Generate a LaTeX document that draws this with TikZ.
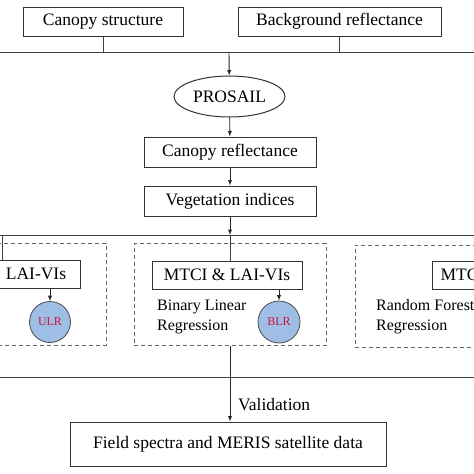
\documentclass[tikz,border=0pt]{standalone}
\usepackage{fontspec}
\setmainfont{Liberation Serif}
\usepackage{tikz}
\usetikzlibrary{shapes,arrows}
\usetikzlibrary{positioning,calc}

\definecolor{methodblue}{RGB}{158,190,230}
\definecolor{methodred}{RGB}{205,20,60}

\tikzset{
  stepbox/.style={draw=black!80, line width=1pt, font=\fontsize{17.5}{20}\selectfont, minimum height=29pt, inner sep=0pt},
  panel/.style={draw=black!60, line width=1pt, dash pattern=on 4pt off 3pt, minimum width=192pt, minimum height=102pt},
  method/.style={circle, draw=black!70, line width=0.8pt, fill=methodblue, text=methodred, font=\fontsize{12}{14}\selectfont, minimum size=41pt, inner sep=0pt},
  note/.style={font=\fontsize{16}{20}\selectfont, align=left, anchor=west, inner sep=0pt},
  bus/.style={draw=black!75, line width=1pt},
  link/.style={draw=black!85, line width=0.9pt, -latex},
}

\begin{document}
\begin{tikzpicture}[x=1pt,y=-1pt]
\useasboundingbox (0,0) rectangle (474,474);
\clip (0,0) rectangle (474,474);

% inputs
\node[stepbox, minimum width=160pt] (canopy) at (103,21.5) {Canopy structure};
\node[stepbox, minimum width=203pt] (backgr) at (339.5,21.5) {Background reflectance};
\coordinate (busA-l) at (0,52);
\coordinate (busA-r) at (474,52);
\coordinate (busA-m) at (229,52);
\draw[bus] (busA-l) -- (busA-r);
\draw[bus] (canopy) -- (canopy |- busA-l);
\draw[bus] (backgr) -- (backgr |- busA-l);

% model
\node[stepbox, ellipse, minimum width=111pt, minimum height=41pt] (prosail) at (229.5,96.5) {PROSAIL};
\node[stepbox, minimum width=172pt, minimum height=30pt] (crefl) at (230,152) {Canopy reflectance};
\node[stepbox, minimum width=172pt, minimum height=30pt] (vind) at (230,201) {Vegetation indices};
\draw[link] (busA-m) -- (prosail);
\draw[link] (prosail) -- (crefl);
\draw[link] (crefl) -- (vind);

\coordinate (busB-l) at (0,235);
\coordinate (busB-r) at (474,235);
\coordinate (busB-a) at (2,235);
\coordinate (busB-m) at (230,235);
\draw[bus] (busB-l) -- (busB-r);
\draw[link] (vind) -- (vind |- busB-l);

% regression panels
\node[panel] (pleft) at (10,294) {};
\node[panel] (pmid) at (230,294.5) {};
\node[panel] (pright) at (451,296) {};

\node[stepbox, minimum width=88pt, minimum height=28pt] (lai) at (36,274) {LAI-VIs};
\node[method] (ulr) at (50,322) {ULR};
\draw[bus] (busB-a) -- (busB-a |- lai.north);
\draw[link] (lai.south -| ulr) -- (ulr);

\node[stepbox, minimum width=150pt, minimum height=28pt] (mtcilai) at (227,275) {MTCI \& LAI-VIs};
\node[method, minimum size=42pt] (blr) at (279,322) {BLR};
\node[note] (blrtxt) at (157,317) {Binary Linear\\Regression};
\draw[bus] (busB-m) -- (busB-m |- mtcilai.north);
\draw[link] (mtcilai.south -| blr) -- (blr);

\node[stepbox, minimum height=28pt, inner xsep=8pt, anchor=west] (mtci) at (432,275) {MTCI};
\node[note] (rfrtxt) at (376,317) {Random Forest\\Regression};

% validation
\coordinate (busC-l) at (0,377);
\coordinate (busC-r) at (474,377);
\draw[bus] (busC-l) -- (busC-r);
\node[stepbox, minimum width=316pt, minimum height=44pt] (field) at (228,444) {Field spectra and MERIS satellite data};
\draw[link] (pmid.south) -- (pmid.south |- field.north);
\node[note, font=\fontsize{17.5}{20}\selectfont] (valid) at (238,405) {Validation};
\end{tikzpicture}
\end{document}
